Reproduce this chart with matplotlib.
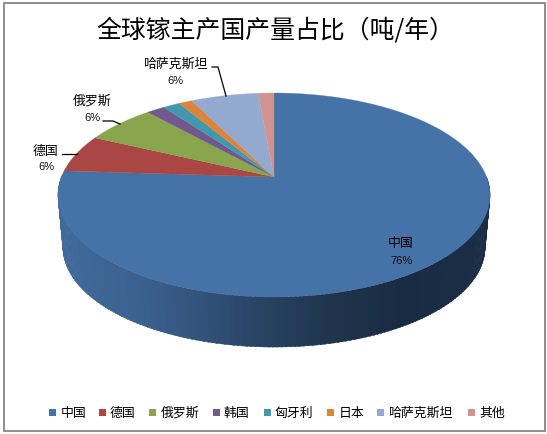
import numpy as np
import matplotlib
matplotlib.use("Agg")
import matplotlib.pyplot as plt
from matplotlib.patches import Rectangle
from matplotlib.colors import LinearSegmentedColormap

plt.rcParams['font.family'] = ['Noto Sans CJK SC', 'DejaVu Sans']

title = "全球镓主产国产量占比（吨/年）"
countries = ["中国", "德国", "俄罗斯", "韩国", "匈牙利", "日本", "哈萨克斯坦", "其他"]
shares = [76.0, 6.0, 6.3, 1.6, 1.5, 1.2, 6.0, 1.4]
colors = ["#4572A7", "#AA4643", "#89A54E", "#71588F", "#4198AF", "#DB843D", "#93A9CF", "#D19392"]

W, H = 547, 435
fig = plt.figure(figsize=(W / 100, H / 100), dpi=100, facecolor="white")
ax = fig.add_axes([0, 0, 1, 1])
ax.set_xlim(0, W)
ax.set_ylim(H, 0)
ax.axis("off")

# Outer chart frame
ax.add_patch(Rectangle((3.5, 3.5), 541, 428, fc="white", ec="#868686", lw=1.3))

# Tilted disc: a projective map from the unit circle to the screen
CX, CY = 274.0, 178.0
K = 36.0 / 204.0
A = 84.0 * (1 + K)
C = 216.0 * np.sqrt(1 - K ** 2)


def project(theta_deg, scale=1.0, cy=CY):
    t = np.radians(theta_deg)
    u, v = np.sin(t), np.cos(t)
    w = 1 + K * v
    return CX + scale * C * u / w, cy - scale * A * v / w


# Side wall of the front of the disc, shaded from left to right
wall = LinearSegmentedColormap.from_list(
    "wall", ["#416A9B", "#3A608D", "#2C4A6E", "#20374F", "#192B42", "#1B2E46"])
wall_thetas = np.arange(90.0, 272.0, 1.0)
BOTTOM_SCALE, BOTTOM_CY = 0.977, 230.8
for a, b in zip(wall_thetas[:-1], wall_thetas[1:]):
    xt0, yt0 = project(a)
    xt1, yt1 = project(b + 0.4)
    xb0, yb0 = project(a, BOTTOM_SCALE, BOTTOM_CY)
    xb1, yb1 = project(b + 0.4, BOTTOM_SCALE, BOTTOM_CY)
    shade = wall(np.clip((0.5 * (xt0 + xt1) - 60) / 430, 0, 1))
    ax.fill([xt0, xt1, xb1, xb0], [yt0, yt1, yb1, yb0], color=shade, lw=0.3, zorder=2)

# Top face of the disc, one wedge per country
edges = np.concatenate([[0.0], np.cumsum(shares)]) / np.sum(shares) * 360.0
for start, end, col in zip(edges[:-1], edges[1:], colors):
    th = np.linspace(start, end, max(int(end - start) * 2, 8))
    px, py = project(th)
    ax.fill(np.r_[CX, px], np.r_[CY, py], color=col, lw=0.2, zorder=3)

# Category name and percentage labels
cjk = ['Noto Sans CJK SC', 'DejaVu Sans']
latin = ['Liberation Sans', 'DejaVu Sans']
label_slots = {0: (401, 244, 261), 1: (46, 151, 167), 2: (92, 101, 118), 6: (175, 64, 81)}
for idx, (lx, y_name, y_pct) in label_slots.items():
    ax.text(lx, y_name, countries[idx], family=cjk, fontsize=9.3, color="black",
            ha="center", va="center", zorder=5)
    ax.text(lx + 0.5, y_pct, f"{shares[idx]:.0f}%", family=latin, fontsize=8, color="#111111",
            ha="center", va="center", zorder=5)

# Leader lines
for xs, ys in [([62, 77], [155, 155]),
               ([103, 113, 120], [122, 122, 125]),
               ([212, 218, 226], [68, 68, 97])]:
    ax.plot(xs, ys, color="black", lw=0.9, zorder=4)

ax.text(275.5, 30.5, title, family=cjk, fontsize=17.9, color="black", ha="center", va="center", zorder=5)

# Legend row
swatch_x = [49, 99, 149, 213, 264, 327, 377, 468]
text_x = [60.5, 110, 161, 224, 275, 339, 388.5, 479]
for sx, tx, name, col in zip(swatch_x, text_x, countries, colors):
    ax.add_patch(Rectangle((sx, 409.5), 7, 7, fc=col, ec="none", zorder=5))
    ax.text(tx, 413.5, name, family=cjk, fontsize=9.3, color="black", ha="left", va="center", zorder=5)

fig.savefig("out.png", dpi=100)
